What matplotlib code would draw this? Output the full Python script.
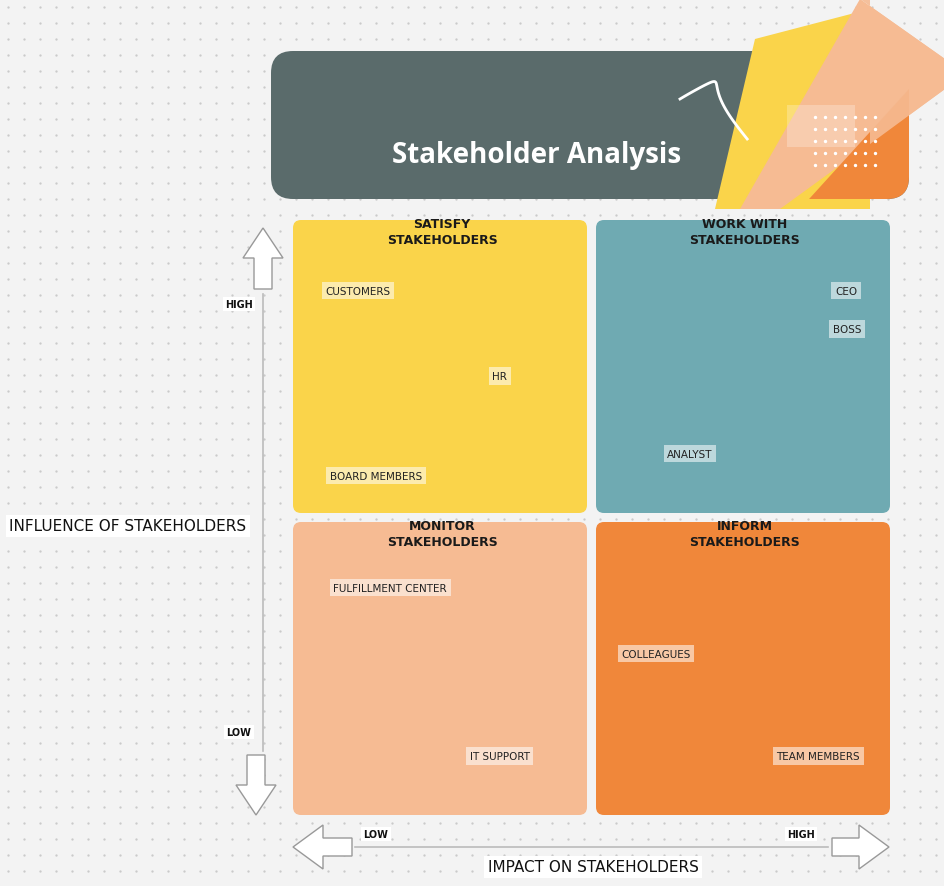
import matplotlib
matplotlib.use("Agg")
import matplotlib.pyplot as plt
from matplotlib.patches import FancyBboxPatch, Polygon
import numpy as np

quadrant_titles = ["SATISFY\nSTAKEHOLDERS", "WORK WITH\nSTAKEHOLDERS",
                   "MONITOR\nSTAKEHOLDERS", "INFORM\nSTAKEHOLDERS"]
quadrant_colors = ["#fad44a", "#6faab2", "#f6bb93", "#f0873a"]
names = ["CUSTOMERS", "HR", "BOARD MEMBERS", "CEO", "BOSS", "ANALYST",
         "FULFILLMENT CENTER", "IT SUPPORT", "COLLEAGUES", "TEAM MEMBERS"]
impact = [1.09, 3.47, 1.39, 9.28, 9.30, 6.66, 1.63, 3.47, 6.09, 8.81]
influence = [8.81, 7.38, 5.70, 8.81, 8.17, 6.07, 3.82, 0.99, 2.71, 0.99]
title = "Stakeholder Analysis"

W, H = 945, 887
fig = plt.figure(figsize=(W/100, H/100), dpi=100, facecolor="#f3f3f3")
ax = fig.add_axes([0, 0, 1, 1])
ax.set_xlim(0, W); ax.set_ylim(H, 0); ax.axis("off")
ax.set_facecolor("#f3f3f3")
gx, gy = np.meshgrid(np.arange(8, W, 16), np.arange(8, H, 16))
ax.scatter(gx.ravel(), gy.ravel(), s=0.4, color="#c8c8c8", zorder=0)

# header
hdr = FancyBboxPatch((271, 52), 638, 148, boxstyle="round,pad=0,rounding_size=22",
                     fc="#5a6b6b", ec="none", zorder=1)
ax.add_patch(hdr)
for pts, c in [([(755, 40), (870, 10), (870, 210), (715, 210)], "#fad44a"),
               ([(860, 0), (945, 60), (945, 90), (780, 210), (740, 210)], "#f6bb93"),
               ([(909, 90), (909, 210), (800, 210)], "#f0873a")]:
    p = Polygon(pts, closed=True, fc=c, ec="none", zorder=2)
    ax.add_patch(p)
    if c == "#f0873a":
        p.set_clip_path(hdr)
ax.add_patch(Polygon([(860, 0), (945, 60), (945, 90), (870, 145), (870, 0)],
                     closed=True, fc="#f6bb93", ec="none", alpha=0.9, zorder=2))
ax.add_patch(FancyBboxPatch((787, 106), 68, 42, boxstyle="square,pad=0",
                            fc="white", alpha=0.25, ec="none", zorder=3))
dx, dy = np.meshgrid(np.arange(815, 885, 10), np.arange(118, 170, 12))
ax.scatter(dx.ravel(), dy.ravel(), s=2, color="white", zorder=4)
t = np.linspace(0, 1, 100)
ax.plot(680 + 70*t + 10*np.sin(6*t), 100 - 25*np.sin(np.pi*t) + 40*t**2, color="white", lw=2, zorder=4)
ax.text(537, 155, title, color="white", fontsize=20, fontweight="bold",
        ha="center", va="center", family="Open Sans", zorder=5)

# quadrants (pixel boxes)
boxes = [(293, 221), (596, 221), (293, 523), (596, 523)]
bw, bh = 294, 293
for (x, y), c, tt in zip(boxes, quadrant_colors, quadrant_titles):
    ax.add_patch(FancyBboxPatch((x, y), bw, bh, boxstyle="round,pad=0,rounding_size=8",
                                fc=c, ec="none", zorder=1))
    ax.text(x + bw/2 + 2, y + 12, tt, ha="center", va="center", fontsize=9,
            fontweight="bold", linespacing=1.3, color="#1a1a1a", zorder=3)

# matrix axes for stakeholder positions
max_ = fig.add_axes([293/W, 1 - 816/H, 596/W, 595/H])
max_.set_xlim(0, 10); max_.set_ylim(0, 10); max_.axis("off")
max_.patch.set_alpha(0)
for n, xi, yi in zip(names, impact, influence):
    max_.text(xi, yi, n, ha="center", va="center", fontsize=7.5, color="#222",
              bbox=dict(boxstyle="square,pad=0.35", fc="white", ec="none", alpha=0.55))

# vertical axis
def arrow_up(cx, top, bot, flip=False):
    hw, sw, hh = 20, 9, 30
    pts = [(cx, top), (cx+hw, top+hh), (cx+sw, top+hh), (cx+sw, bot), (cx-sw, bot),
           (cx-sw, top+hh), (cx-hw, top+hh)]
    if flip:
        pts = [(x, top + bot - y) for x, y in pts]
    ax.add_patch(Polygon(pts, closed=True, fc="white", ec="#999", lw=1, zorder=2))
def arrow_h(cy, tip, base, left=True):
    hw, sw, hh = 22, 9, 30
    s = 1 if left else -1
    pts = [(tip, cy), (tip+s*hh, cy-hw), (tip+s*hh, cy-sw), (base, cy-sw), (base, cy+sw),
           (tip+s*hh, cy+sw), (tip+s*hh, cy+hw)]
    ax.add_patch(Polygon(pts, closed=True, fc="white", ec="#999", lw=1, zorder=2))
arrow_up(263, 229, 290)
arrow_up(256, 756, 816, flip=True)
ax.plot([263, 263], [295, 752], color="#bbb", lw=1.2)
arrow_h(848, 293, 352, left=True)
arrow_h(848, 889, 832, left=False)
ax.plot([355, 828], [848, 848], color="#bbb", lw=1.2)

def tag(x, y, s, **kw):
    ax.text(x, y, s, ha="center", va="center", color="#111",
            bbox=dict(boxstyle="square,pad=0.25", fc="white", ec="none"), **kw)
tag(239, 305, "HIGH", fontsize=7, fontweight="bold")
tag(239, 733, "LOW", fontsize=7, fontweight="bold")
tag(376, 835, "LOW", fontsize=7, fontweight="bold")
tag(801, 835, "HIGH", fontsize=7, fontweight="bold")
tag(128, 527, "INFLUENCE OF STAKEHOLDERS", fontsize=11)
tag(593, 868, "IMPACT ON STAKEHOLDERS", fontsize=11)

fig.savefig("out.png", dpi=100, facecolor=fig.get_facecolor())
